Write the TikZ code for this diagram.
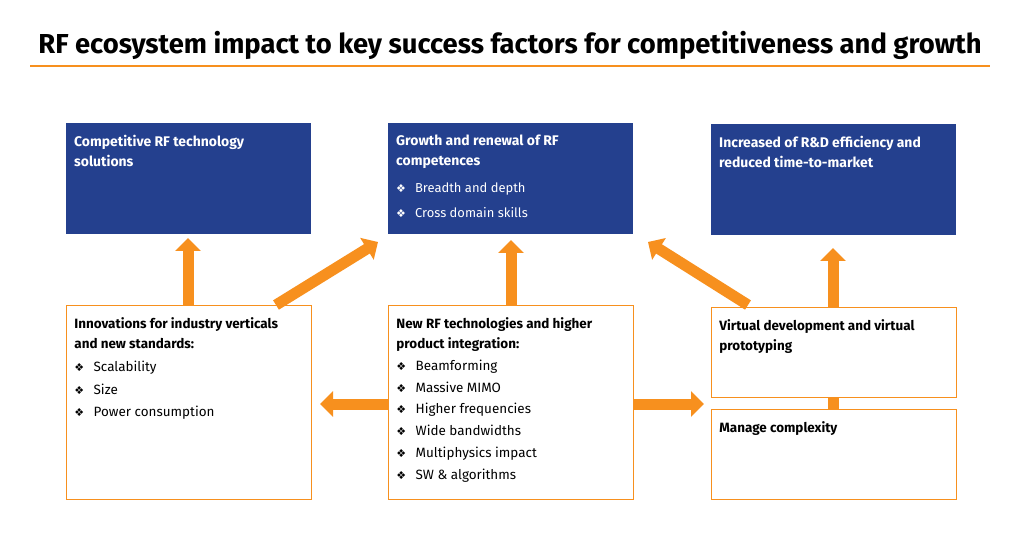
\documentclass[tikz,border=0pt]{standalone}
\usepackage{fontspec}
\setmainfont{Fira Sans}
\newfontfamily\symfont{DejaVu Sans}
\usetikzlibrary{arrows.meta}
\definecolor{rfblue}{RGB}{36,64,142}
\definecolor{rforange}{RGB}{247,144,30}
\newcommand{\bul}{{\symfont\fontsize{11}{11}\selectfont ❖}\hspace{0.7em}}
\newcommand{\boxtext}[2]{\parbox[t][#1][t]{229bp}{#2}}
\tikzset{
  bluebox/.style={fill=rfblue, text=white, font=\bfseries\fontsize{14}{20}\selectfont,
    align=left, anchor=north west, inner xsep=8bp, inner ysep=12bp},
  whitebox/.style={draw=rforange, line width=0.8bp, font=\fontsize{13.5}{20}\selectfont,
    align=left, anchor=north west, inner xsep=8bp, inner ysep=12bp},
  bigarrow/.style={draw=rforange, line width=11bp, -{Triangle[width=25bp,length=13bp]}}
}
\begin{document}
\begin{tikzpicture}[x=1bp,y=-1bp]
  \useasboundingbox (0,0) rectangle (1024,536);
  \node[font=\bfseries\fontsize{27.5}{30}\selectfont] (title) at (510,45)
    {RF ecosystem impact to key success factors for competitiveness and growth};
  \draw[draw=rforange, line width=1.5bp] (30,66) -- (990,66);

  % top row
  \node[bluebox] (tl) at (66,123) {\boxtext{87bp}{Competitive RF technology\\solutions}};
  \node[bluebox] (tc) at (388,123) {\boxtext{87bp}{Growth and renewal of RF\\competences\par\vspace{2bp}
    {\mdseries\fontsize{13}{25}\selectfont\bul Breadth and depth\\\bul Cross domain skills\par}}};
  \node[bluebox] (tr) at (711,124) {\boxtext{87bp}{Increased of R\&D efficiency and\\reduced time-to-market}};

  % bottom row
  \node[whitebox] (bl) at (66,305) {\boxtext{170bp}{\textbf{Innovations for industry verticals\\and new standards:}\par
    {\fontsize{13.5}{23}\selectfont\bul Scalability\\\bul Size\\\bul Power consumption\par}}};
  \node[whitebox] (bc) at (388,305) {\boxtext{170bp}{\textbf{New RF technologies and higher\\product integration:}\par
    {\fontsize{13.5}{22}\selectfont\bul Beamforming\\\bul Massive MIMO\\\bul Higher frequencies\\\bul Wide bandwidths\\\bul Multiphysics impact\\\bul SW \& algorithms\par}}};
  \node[whitebox] (vd) at (711,307) {\boxtext{66bp}{\textbf{Virtual development and virtual\\prototyping}}};
  \node[whitebox] (mc) at (711,409) {\boxtext{66bp}{\textbf{Manage complexity}}};

  % arrows
  \draw[bigarrow] (188,305) -- (188,238);
  \draw[bigarrow] (276,305) -- (378,242);
  \draw[bigarrow] (511,305) -- (511,240);
  \draw[bigarrow] (748,305) -- (648,242);
  \draw[bigarrow] (833,307) -- (833,248);
  \draw[bigarrow] (bc.west |- 0,404) -- (320,404);
  \draw[bigarrow] (bc.east |- 0,404) -- (704,404);
  \draw[draw=rforange, line width=11bp] (vd.south -| 833,0) -- (mc.north -| 833,0);
\end{tikzpicture}
\end{document}
